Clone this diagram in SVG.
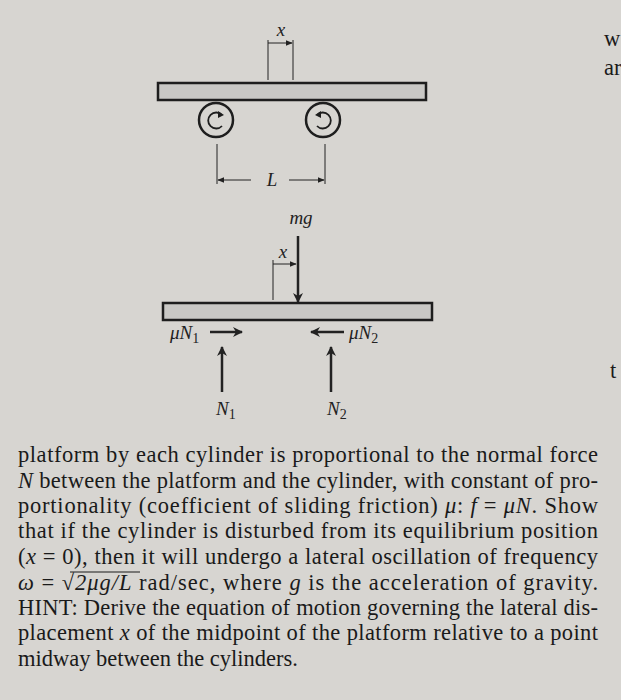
<svg xmlns="http://www.w3.org/2000/svg" width="621" height="700" viewBox="0 0 621 700">
<defs>
<marker id="ah" viewBox="0 0 10 10" refX="9" refY="5" markerWidth="7" markerHeight="7" orient="auto-start-reverse" markerUnits="userSpaceOnUse"><path d="M0,1 L10,5 L0,9 z" fill="#222"/></marker>
<marker id="ab" viewBox="0 0 10 10" refX="9" refY="5" markerWidth="10" markerHeight="10" orient="auto-start-reverse" markerUnits="userSpaceOnUse"><path d="M0,0 L10,5 L0,10 L3,5 z" fill="#222"/></marker>
</defs>
<style>
.bg{fill:#d7d5d1}
.plat{fill:#c9c8c5;stroke:#1e1e1e;stroke-width:2.5}
.thin{stroke:#222;stroke-width:1;fill:none}
.force{stroke:#222;stroke-width:2.5;fill:none}
.lab{font-family:"Liberation Serif",serif;font-style:italic;font-size:19px;fill:#222}
.txt{font-family:"Liberation Serif",serif;font-size:22.5px;fill:#1a1a1a}
.it{font-style:italic}
</style>
<rect class="bg" width="621" height="700"/>
<g id="top-platform">
<rect class="plat" x="158" y="83" width="268" height="17"/>
</g>
<g id="cylinder-1">
<circle cx="216" cy="120" r="17" fill="none" stroke="#1e1e1e" stroke-width="2.5"/>
<path d="M222,115 A8,8 0 1 0 222,126" fill="none" stroke="#1e1e1e" stroke-width="1.8"/>
<path d="M218,111 L224,115 L218,118 z" fill="#1e1e1e"/>
</g>
<g id="cylinder-2">
<circle cx="323" cy="120" r="17" fill="none" stroke="#1e1e1e" stroke-width="2.5"/>
<path d="M317,115 A8,8 0 1 1 317,126" fill="none" stroke="#1e1e1e" stroke-width="1.8"/>
<path d="M321,111 L315,115 L321,118 z" fill="#1e1e1e"/>
</g>
<g id="bottom-platform">
<rect class="plat" x="163" y="303" width="269" height="17"/>
</g>
<g id="connectors">
<line class="thin" x1="268" y1="40" x2="268" y2="80"/>
<line class="thin" x1="293" y1="40" x2="293" y2="80"/>
<line class="thin" x1="268" y1="43" x2="292" y2="43" marker-end="url(#ah)"/>
<line class="thin" x1="217" y1="144" x2="217" y2="184"/>
<line class="thin" x1="325" y1="144" x2="325" y2="184"/>
<line class="thin" x1="251" y1="180" x2="218" y2="180" marker-end="url(#ah)"/>
<line class="thin" x1="289" y1="180" x2="324" y2="180" marker-end="url(#ah)"/>
<line class="thin" x1="273" y1="260" x2="273" y2="300"/>
<line class="thin" x1="273" y1="264" x2="296" y2="264" marker-end="url(#ah)"/>
<line class="force" x1="298" y1="236" x2="298" y2="302" marker-end="url(#ab)"/>
<line class="force" x1="210" y1="332" x2="242" y2="332" marker-end="url(#ab)"/>
<line class="force" x1="344" y1="332" x2="311" y2="332" marker-end="url(#ab)"/>
<line class="force" x1="222" y1="392" x2="222" y2="347" marker-end="url(#ab)"/>
<line class="force" x1="331" y1="392" x2="331" y2="347" marker-end="url(#ab)"/>
</g>
<g id="labels">
<text class="lab" x="281" y="36" text-anchor="middle">x</text>
<text class="lab" x="272" y="186" text-anchor="middle">L</text>
<text class="lab" x="301" y="224" text-anchor="middle">mg</text>
<text class="lab" x="283" y="258" text-anchor="middle">x</text>
<text class="lab" x="170" y="339">μN<tspan font-style="normal" font-size="14" dy="4">1</tspan></text>
<text class="lab" x="349" y="339">μN<tspan font-style="normal" font-size="14" dy="4">2</tspan></text>
<text class="lab" x="216" y="415">N<tspan font-style="normal" font-size="14" dy="4">1</tspan></text>
<text class="lab" x="327" y="415">N<tspan font-style="normal" font-size="14" dy="4">2</tspan></text>
<text class="txt" x="604" y="46" font-size="17">w</text>
<text class="txt" x="604" y="75" font-size="17">ar</text>
<text class="txt" x="610" y="378" font-size="17">t</text>
</g>
<g id="paragraph">
<text class="txt" x="18" y="462" textLength="580" lengthAdjust="spacing">platform by each cylinder is proportional to the normal force</text>
<text class="txt" x="18" y="488" textLength="580" lengthAdjust="spacing"><tspan class="it">N</tspan> between the platform and the cylinder, with constant of pro-</text>
<text class="txt" x="18" y="513" textLength="580" lengthAdjust="spacing">portionality (coefficient of sliding friction) <tspan class="it">μ</tspan>: <tspan class="it">f</tspan> = <tspan class="it">μN</tspan>. Show</text>
<text class="txt" x="18" y="538" textLength="580" lengthAdjust="spacing">that if the cylinder is disturbed from its equilibrium position</text>
<text class="txt" x="18" y="564" textLength="580" lengthAdjust="spacing">(<tspan class="it">x</tspan> = 0), then it will undergo a lateral oscillation of frequency</text>
<text class="txt" x="18" y="590" textLength="580" lengthAdjust="spacing"><tspan class="it">ω</tspan> = √<tspan class="it">2μg/L</tspan> rad/sec, where <tspan class="it">g</tspan> is the acceleration of gravity.</text>
<line x1="70" y1="572" x2="140" y2="572" stroke="#1a1a1a" stroke-width="1.2"/>
<text class="txt" x="18" y="615" textLength="580" lengthAdjust="spacing">HINT: Derive the equation of motion governing the lateral dis-</text>
<text class="txt" x="18" y="640" textLength="580" lengthAdjust="spacing">placement <tspan class="it">x</tspan> of the midpoint of the platform relative to a point</text>
<text class="txt" x="18" y="666">midway between the cylinders.</text>
</g>
</svg>
